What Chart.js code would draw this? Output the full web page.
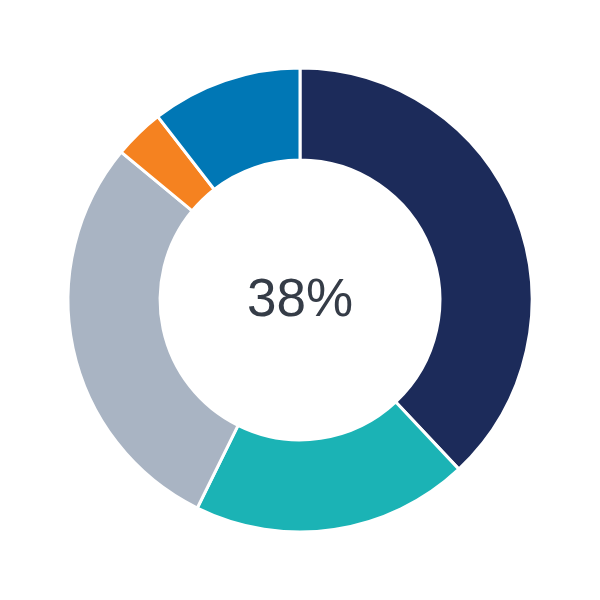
<!DOCTYPE html>
<html>
<head>
<meta charset="utf-8">
<script src="https://cdn.jsdelivr.net/npm/chart.js@4/dist/chart.umd.min.js"></script>
<style>
html,body{margin:0;padding:0;background:#fff;}
#wrap{position:relative;width:600px;height:600px;}
#center{position:absolute;left:0;top:0;width:600px;height:600px;display:flex;align-items:center;justify-content:center;
font-family:"Liberation Sans",Arial,sans-serif;font-size:53px;color:#353c47;pointer-events:none;}
#center span{position:relative;top:-3px;}
</style>
</head>
<body>
<div id="wrap">
<canvas id="c" width="600" height="600"></canvas>
<div id="center"><span id="label"></span></div>
</div>
<script>
const categories = ["Segment A", "Segment B", "Segment C", "Segment D", "Segment E"];
const values = [38, 19.3, 28.7, 3.5, 10.5];
const colors = ["#1c2b5a", "#1bb3b5", "#a9b4c3", "#f58220", "#0077b5"];
const centerLabel = "38%";

document.getElementById('label').textContent = centerLabel;

new Chart(document.getElementById('c'), {
  type: 'doughnut',
  data: {
    labels: categories,
    datasets: [{
      data: values,
      backgroundColor: colors,
      borderColor: '#ffffff',
      borderWidth: 3,
      hoverOffset: 0,
      offset: 0
    }]
  },
  options: {
    responsive: false,
    animation: false,
    cutout: '60.3%',
    layout: { padding: 66.5 },
    plugins: {
      legend: { display: false },
      tooltip: { enabled: false }
    }
  }
});
</script>
</body>
</html>
